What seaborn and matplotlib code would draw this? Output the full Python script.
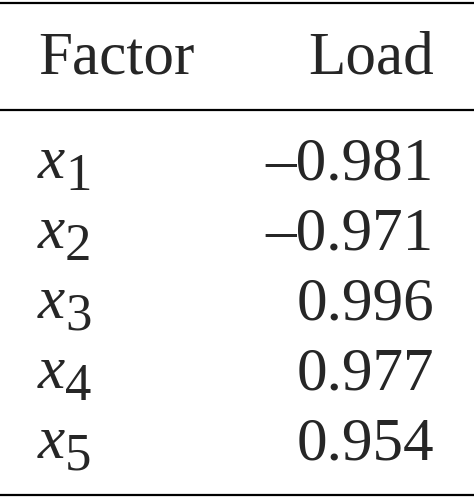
import matplotlib
matplotlib.use("Agg")
import matplotlib.pyplot as plt
import seaborn as sns

sns.set_theme(style="white")
plt.rcParams['font.family'] = ['Liberation Serif', 'DejaVu Serif']

headers = ['Factor', 'Load']
factor_subs = ['1', '2', '3', '4', '5']
loads = [-0.981, -0.971, 0.996, 0.977, 0.954]

fig = plt.figure(figsize=(4.74, 5.0), dpi=100)
ax = fig.add_axes([0, 0, 1, 1])
ax.set_xlim(0, 474)
ax.set_ylim(500, 0)
ax.axis('off')

fs = 44
left, right = 38, 434
ax.text(left, 74, headers[0], fontsize=fs, ha='left', va='baseline')
ax.text(right, 74, headers[1], fontsize=fs, ha='right', va='baseline')

base_y = [180, 250, 320, 390, 460]
for y, s, v in zip(base_y, factor_subs, loads):
    ax.text(left, y - 2, 'x', fontsize=fs, style='italic', ha='left', va='baseline')
    ax.text(left + 27, y + 10, s, fontsize=38, ha='left', va='baseline')
    ax.text(right, y, f'{v:.3f}'.replace('-', '\u2013'), fontsize=fs, ha='right', va='baseline')

for y in (3, 110, 495):
    ax.plot([0, 474], [y, y], color='black', lw=1.6, solid_capstyle='butt')

fig.savefig('out.png', dpi=100)
